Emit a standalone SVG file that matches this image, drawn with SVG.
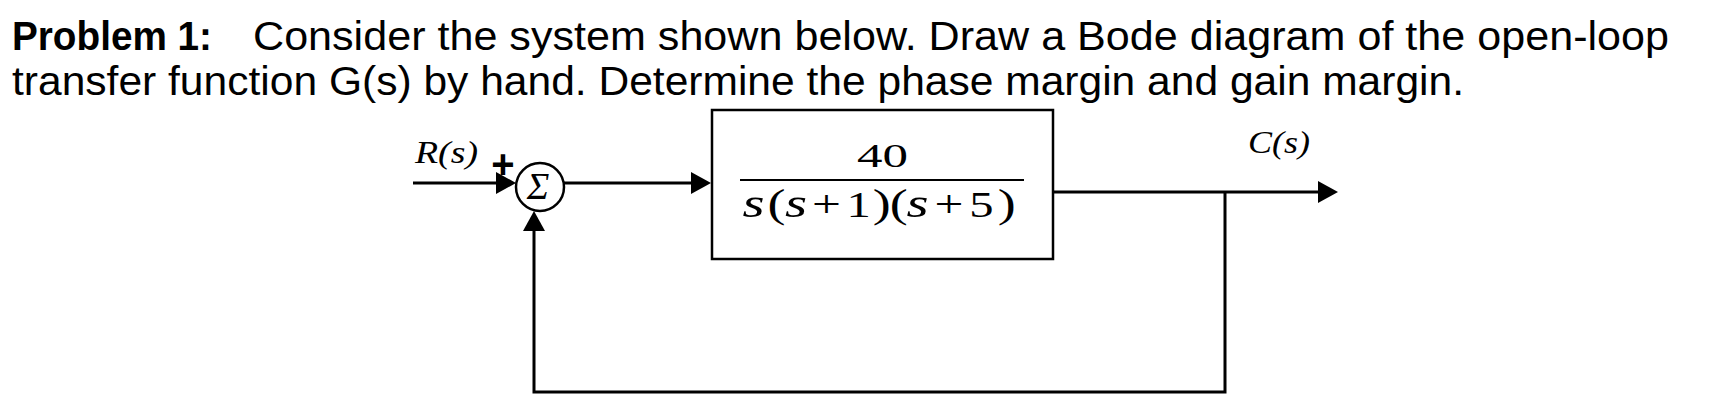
<svg xmlns="http://www.w3.org/2000/svg" width="1718" height="408" viewBox="0 0 1718 408">
<style>
.title{font-family:"Liberation Sans",Arial,sans-serif;font-size:40px;fill:#000}
.bold{font-weight:bold}
.sig{font-family:"Liberation Serif","Times New Roman",serif;font-style:italic;fill:#000}
.math{font-family:"Liberation Serif","Times New Roman",serif;fill:#000}
.it{font-style:italic}
.wire{fill:none;stroke:#000;stroke-width:3}
.shape{fill:#fff;stroke:#000;stroke-width:2.5}
</style>
<defs>
<marker id="arr" viewBox="0 0 20 22" refX="12" refY="11" markerWidth="20" markerHeight="22" markerUnits="userSpaceOnUse" orient="auto">
<path d="M0,0 L20,11 L0,22 z" fill="#000"/>
</marker>
</defs>
<rect width="1718" height="408" fill="#fff"/>
<g id="title">
<text class="title bold" x="12" y="50" textLength="200" lengthAdjust="spacingAndGlyphs">Problem 1:</text>
<text class="title" x="253" y="50" textLength="1416" lengthAdjust="spacingAndGlyphs">Consider the system shown below. Draw a Bode diagram of the open-loop</text>
<text class="title" x="12" y="95" textLength="1452" lengthAdjust="spacingAndGlyphs">transfer function G(s) by hand. Determine the phase margin and gain margin.</text>
</g>
<g id="connectors">
<path class="wire" d="M413,183 H508" marker-end="url(#arr)"/>
<path class="wire" d="M564,183 H703" marker-end="url(#arr)"/>
<path class="wire" d="M1053,192 H1330" marker-end="url(#arr)"/>
<path class="wire" d="M1225,192 V392 H534 V219" marker-end="url(#arr)"/>
</g>
<g id="input-label">
<text class="sig" x="415" y="163" font-size="32" textLength="63" lengthAdjust="spacingAndGlyphs">R(s)</text>
<text class="title bold" x="503" y="178" text-anchor="middle" style="font-size:40px">+</text>
</g>
<g id="summing-junction">
<circle class="shape" cx="540" cy="187" r="24"/>
<text class="sig" x="538" y="199" font-size="38" text-anchor="middle">Σ</text>
</g>
<g id="plant">
<rect class="shape" x="712" y="110" width="341" height="149"/>
<line x1="740" y1="180" x2="1024" y2="180" stroke="#000" stroke-width="2"/>
<text class="math" transform="scale(1.5,1)" x="588.3" y="167" font-size="34" text-anchor="middle">40</text>
<text class="math" transform="scale(1.35,1)" y="217" font-size="36"><tspan class="it" x="550" font-size="42">s</tspan><tspan x="568.5" font-size="40">(</tspan><tspan class="it" x="581.5" font-size="42">s</tspan><tspan x="601.5" font-size="38">+</tspan><tspan x="627">1</tspan><tspan x="646.5" font-size="40">)</tspan><tspan x="659" font-size="40">(</tspan><tspan class="it" x="671.5" font-size="42">s</tspan><tspan x="692.3" font-size="38">+</tspan><tspan x="718">5</tspan><tspan x="739" font-size="40">)</tspan></text>
</g>
<g id="output-label">
<text class="sig" x="1248" y="153" font-size="32" textLength="62" lengthAdjust="spacingAndGlyphs">C(s)</text>
</g>
</svg>
